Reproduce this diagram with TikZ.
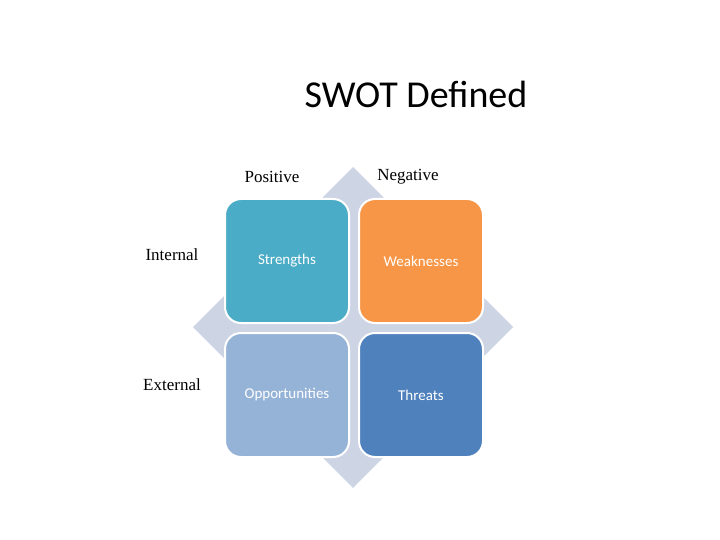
\documentclass[tikz,border=0pt]{standalone}
\usepackage{fontspec}
\setmainfont{Liberation Serif}
\newfontfamily\carlitofam{Carlito}
\begin{document}
\begin{tikzpicture}[x=1pt,y=-1pt,
  quad/.style={draw=white,line width=2pt,rounded corners=16pt,minimum width=124pt,minimum height=124pt,text=white,font=\carlitofam\fontsize{15}{18}\selectfont},
  lab/.style={font=\fontsize{17}{20}\selectfont}]
\useasboundingbox (0,0) rectangle (720,540);
\fill[fill={rgb,255:red,205;green,213;blue,229}] (353,167) -- (513,327) -- (353,488) -- (193,327) -- cycle;
\node[font=\carlitofam\fontsize{38}{44}\selectfont] (t) at (416,94) {SWOT Defined};
\node[quad,fill={rgb,255:red,74;green,172;blue,198}] (s) at (287,261) {Strengths};
\node[quad,fill={rgb,255:red,247;green,150;blue,70}] (w) at (421,261) {Weaknesses};
\node[quad,fill={rgb,255:red,149;green,179;blue,215}] (o) at (287,395) {Opportunities};
\node[quad,fill={rgb,255:red,79;green,129;blue,189}] (th) at (421,395) {Threats};
\node[lab] (p) at (272,177) {Positive};
\node[lab] (n) at (408,177) {Negative};
\node[lab] (i) at (172,255) {Internal};
\node[lab] (e) at (172,385) {External};
\end{tikzpicture}
\end{document}
